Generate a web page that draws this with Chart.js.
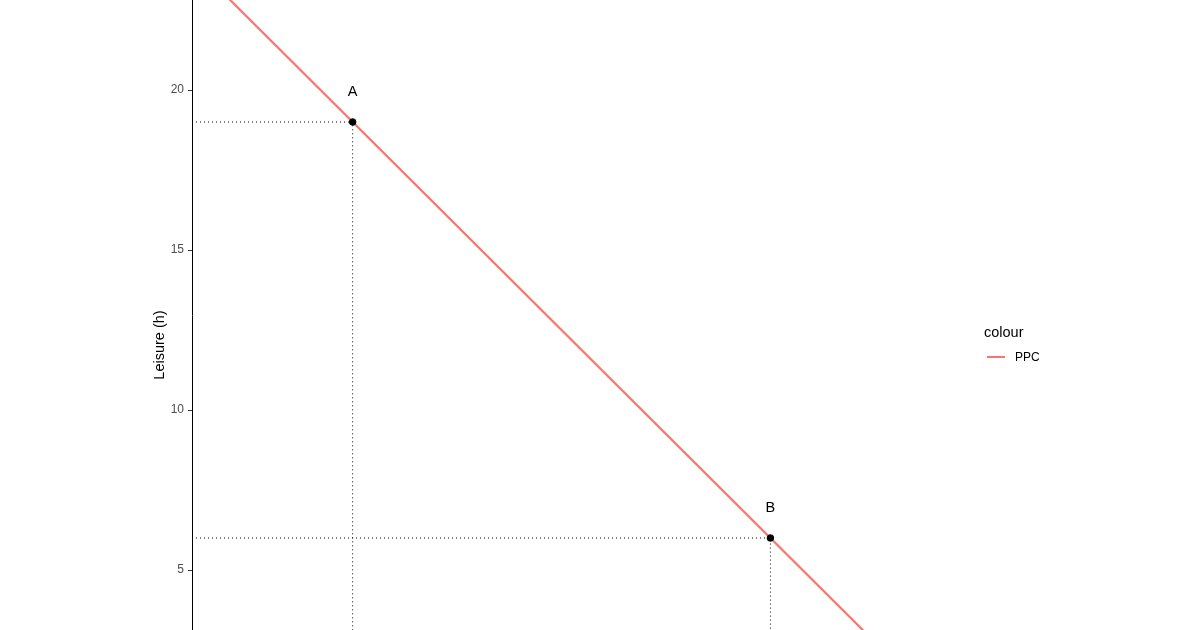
<!DOCTYPE html>
<html>
<head>
<meta charset="utf-8">
<title>PPC</title>
<script src="https://cdn.jsdelivr.net/npm/chart.js@4.4.0/dist/chart.umd.min.js"></script>
<style>
    body { margin: 0; background: #ffffff; }
    #wrap { width: 1200px; height: 630px; position: relative; }
</style>
</head>
<body>
<div id="wrap"><canvas id="ppcChart"></canvas></div>
<script>
// --- Data ---
const ppcConsumption = [0, 24];
const ppcLeisure = [24, 0];
const pointNames = ['A', 'B'];
const pointConsumption = [5, 18];
const pointLeisure = [19, 6];
const leisureTicks = [5, 10, 15, 20];
const legendLabels = ['PPC'];

const FONT = '"Liberation Sans", Arial, sans-serif';
const PPC_COLOR = '#F8766D';

// dotted guide from the axis to each point and down
const guideSets = pointNames.map((name, i) => ({
    label: 'guide ' + name,
    data: [
        { x: 0, y: pointLeisure[i] },
        { x: pointConsumption[i], y: pointLeisure[i] },
        { x: pointConsumption[i], y: 0 }
    ],
    showLine: true,
    borderColor: '#000000',
    borderWidth: 1,
    borderDash: [1, 3],
    pointRadius: 0,
    order: 3
}));

// --- Labels, axis title and legend ---
const annotate = {
    id: 'annotate',
    afterDatasetsDraw(chart) {
        const { ctx, scales: { x, y } } = chart;
        ctx.save();
        ctx.fillStyle = '#000000';
        ctx.font = '14.5px ' + FONT;
        ctx.textAlign = 'center';
        ctx.textBaseline = 'middle';
        pointNames.forEach((name, i) => {
            ctx.fillText(name, x.getPixelForValue(pointConsumption[i]), y.getPixelForValue(pointLeisure[i]) - 30);
        });

        // y axis title
        ctx.save();
        ctx.translate(160, 345);
        ctx.rotate(-Math.PI / 2);
        ctx.fillText('Leisure (h)', 0, 0);
        ctx.restore();

        // legend
        ctx.textAlign = 'left';
        ctx.fillText('colour', 984, 333);
        ctx.font = '12px ' + FONT;
        legendLabels.forEach((lab, i) => {
            const ly = 357 + i * 20;
            ctx.strokeStyle = PPC_COLOR;
            ctx.lineWidth = 2;
            ctx.beginPath();
            ctx.moveTo(987, ly);
            ctx.lineTo(1005, ly);
            ctx.stroke();
            ctx.fillText(lab, 1015, ly + 1);
        });
        ctx.restore();
    }
};

const ctx = document.getElementById('ppcChart').getContext('2d');
new Chart(ctx, {
    type: 'scatter',
    data: {
        datasets: [
            {
                label: 'points',
                data: pointConsumption.map((c, i) => ({ x: c, y: pointLeisure[i] })),
                backgroundColor: '#000000',
                borderColor: '#000000',
                pointRadius: 3.3,
                order: 1
            },
            {
                label: 'PPC',
                data: ppcConsumption.map((c, i) => ({ x: c, y: ppcLeisure[i] })),
                showLine: true,
                borderColor: PPC_COLOR,
                borderWidth: 2.2,
                pointRadius: 0,
                order: 2
            },
            ...guideSets
        ]
    },
    options: {
        responsive: true,
        maintainAspectRatio: false,
        animation: false,
        layout: { autoPadding: false, padding: { left: 0, top: 0, right: 240, bottom: 0 } },
        plugins: {
            legend: { display: false },
            tooltip: { enabled: false }
        },
        scales: {
            x: {
                type: 'linear',
                display: false,
                min: 0,
                max: 23.9
            },
            y: {
                type: 'linear',
                min: 3.125,
                max: 22.8125,
                afterBuildTicks: s => { s.ticks = leisureTicks.map(v => ({ value: v })); },
                afterFit: s => { s.width = 192; s.paddingTop = 0; s.paddingBottom = 0; },
                border: { display: true, color: '#000000', width: 1 },
                grid: { drawOnChartArea: false, drawTicks: true, tickLength: 4, tickColor: '#333333' },
                ticks: {
                    color: '#4d4d4d',
                    padding: 4,
                    font: { family: FONT, size: 12 }
                }
            }
        }
    },
    plugins: [annotate]
});
</script>
</body>
</html>
